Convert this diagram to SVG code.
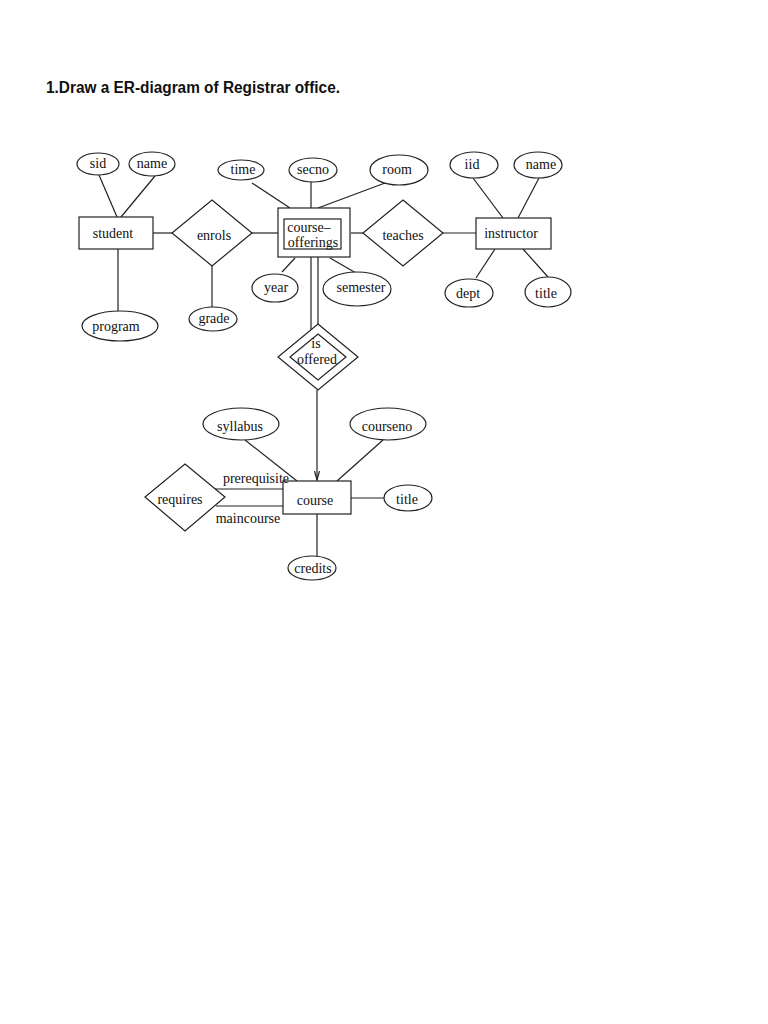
<svg xmlns="http://www.w3.org/2000/svg" width="768" height="1024" viewBox="0 0 768 1024">
<defs>
<style>
.s{fill:#fff;stroke:#222;stroke-width:1.2}
.l{fill:none;stroke:#222;stroke-width:1.2}
.t{font-family:"Liberation Serif","Times New Roman",serif;font-size:14px;fill:#111;text-anchor:middle}
.h{font-family:"Liberation Sans",Arial,sans-serif;font-size:16px;font-weight:bold;fill:#111}
</style>
<marker id="arr" markerWidth="10" markerHeight="10" refX="9" refY="5" orient="auto" markerUnits="userSpaceOnUse">
<path d="M0,2.5 L9,5 L0,7.5" fill="none" stroke="#222" stroke-width="1.2"/>
</marker>
</defs>
<rect width="768" height="1024" fill="#fff"/>
<text class="h" x="46" y="93" textLength="294" lengthAdjust="spacingAndGlyphs">1.Draw a ER-diagram of Registrar office.</text>

<g id="connectors">
<line class="l" x1="99" y1="175" x2="117" y2="217"/>
<line class="l" x1="155" y1="176" x2="121" y2="217"/>
<line class="l" x1="153" y1="233" x2="172" y2="233"/>
<line class="l" x1="118" y1="249" x2="118" y2="311"/>
<line class="l" x1="212" y1="266" x2="212" y2="307"/>
<line class="l" x1="252" y1="233" x2="278" y2="233"/>
<line class="l" x1="252" y1="183" x2="290" y2="208"/>
<line class="l" x1="311" y1="182" x2="311" y2="208"/>
<line class="l" x1="385" y1="183" x2="318" y2="208"/>
<line class="l" x1="295" y1="258" x2="282" y2="272"/>
<line class="l" x1="330" y1="258" x2="356" y2="273"/>
<line class="l" x1="351" y1="233" x2="363" y2="233"/>
<line class="l" x1="443" y1="233" x2="476" y2="233"/>
<line class="l" x1="473" y1="178" x2="503" y2="218"/>
<line class="l" x1="539" y1="178" x2="518" y2="218"/>
<line class="l" x1="495" y1="249" x2="476" y2="278"/>
<line class="l" x1="523" y1="249" x2="548" y2="277"/>
<line class="l" x1="311" y1="257" x2="311" y2="330"/>
<line class="l" x1="318" y1="257" x2="318" y2="324"/>
<line class="l" x1="317" y1="390" x2="317" y2="480" marker-end="url(#arr)"/>
<line class="l" x1="245" y1="440" x2="297" y2="481"/>
<line class="l" x1="383" y1="440" x2="337" y2="481"/>
<line class="l" x1="215" y1="489" x2="283" y2="489"/>
<line class="l" x1="216" y1="506" x2="283" y2="506"/>
<line class="l" x1="351" y1="498" x2="384" y2="498"/>
<line class="l" x1="317" y1="514" x2="317" y2="556"/>
</g>

<g id="student"><rect class="s" x="79" y="217" width="74" height="32"/><text class="t" x="113" y="238">student</text></g>
<g id="sid"><ellipse class="s" cx="98" cy="164" rx="21" ry="11"/><text class="t" x="98" y="168">sid</text></g>
<g id="student-name"><ellipse class="s" cx="152" cy="164" rx="23" ry="12"/><text class="t" x="152" y="168">name</text></g>
<g id="program"><ellipse class="s" cx="120" cy="326" rx="38" ry="15"/><text class="t" x="116" y="331">program</text></g>
<g id="enrols"><polygon class="s" points="212,200 252,233 212,266 172,233"/><text class="t" x="214" y="240">enrols</text></g>
<g id="grade"><ellipse class="s" cx="213" cy="319" rx="24" ry="12"/><text class="t" x="214" y="323">grade</text></g>
<g id="course-offerings"><rect class="s" x="278" y="208" width="72" height="49"/><rect class="s" x="284" y="219" width="57" height="30"/><text class="t" x="309" y="232">course–</text><text class="t" x="313" y="247">offerings</text></g>
<g id="time"><ellipse class="s" cx="241" cy="170" rx="23" ry="10"/><text class="t" x="243" y="174">time</text></g>
<g id="secno"><ellipse class="s" cx="313" cy="170" rx="24" ry="12"/><text class="t" x="313" y="174">secno</text></g>
<g id="room"><ellipse class="s" cx="399" cy="170" rx="29" ry="15"/><text class="t" x="397" y="174">room</text></g>
<g id="year"><ellipse class="s" cx="275" cy="288" rx="23" ry="14"/><text class="t" x="276" y="292">year</text></g>
<g id="semester"><ellipse class="s" cx="357" cy="289" rx="34" ry="17"/><text class="t" x="361" y="292">semester</text></g>
<g id="teaches"><polygon class="s" points="403,200 443,233 403,266 363,233"/><text class="t" x="403" y="240">teaches</text></g>
<g id="instructor"><rect class="s" x="476" y="218" width="75" height="31"/><text class="t" x="511" y="238">instructor</text></g>
<g id="iid"><ellipse class="s" cx="474" cy="165" rx="24" ry="13"/><text class="t" x="472" y="169">iid</text></g>
<g id="instructor-name"><ellipse class="s" cx="538" cy="165" rx="24" ry="13"/><text class="t" x="541" y="169">name</text></g>
<g id="dept"><ellipse class="s" cx="469" cy="293" rx="24" ry="14"/><text class="t" x="468" y="298">dept</text></g>
<g id="instructor-title"><ellipse class="s" cx="548" cy="292" rx="23" ry="15"/><text class="t" x="546" y="298">title</text></g>
<g id="is-offered"><polygon class="s" points="318,324 358,357 318,390 278,357"/><polygon class="s" points="318,334 346,357 318,380 290,357"/><text class="t" x="316" y="348">is</text><text class="t" x="317" y="364">offered</text></g>
<g id="course"><rect class="s" x="283" y="481" width="68" height="33"/><text class="t" x="315" y="505">course</text></g>
<g id="syllabus"><ellipse class="s" cx="241" cy="424" rx="38" ry="16"/><text class="t" x="240" y="431">syllabus</text></g>
<g id="courseno"><ellipse class="s" cx="388" cy="424" rx="38" ry="16"/><text class="t" x="387" y="431">courseno</text></g>
<g id="requires"><polygon class="s" points="185,464 225,497 185,531 145,497"/><text class="t" x="180" y="504">requires</text></g>
<g id="course-title"><ellipse class="s" cx="408" cy="498" rx="24" ry="13"/><text class="t" x="407" y="504">title</text></g>
<g id="credits"><ellipse class="s" cx="312" cy="568" rx="24" ry="12"/><text class="t" x="313" y="573">credits</text></g>
<g id="role-labels"><text class="t" x="256" y="483">prerequisite</text><text class="t" x="248" y="523">maincourse</text></g>
</svg>
